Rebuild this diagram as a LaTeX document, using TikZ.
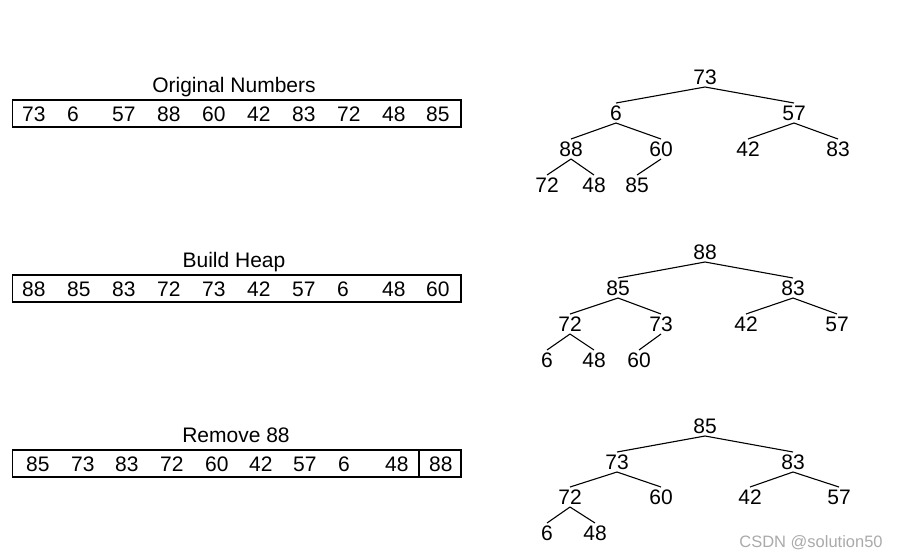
\documentclass[tikz,border=0pt]{standalone}
\usepackage{fontspec}
\setmainfont{Liberation Sans}
\usepackage{tikz}
\usetikzlibrary{positioning}
\definecolor{MarkGray}{RGB}{170, 170, 170}

\begin{document}
\begin{tikzpicture}[x=1pt,y=-1pt,
    every node/.style={font=\fontsize{21}{24}\selectfont,text height=15pt,text depth=0pt},
    cell/.style={anchor=west,inner sep=0pt},
    key/.style={inner sep=2.3pt},
    arr/.style={draw,line width=1.1pt,minimum width=448.5pt,minimum height=27pt,inner sep=0pt},
    link/.style={line width=1.1pt}]
        \useasboundingbox (0,0) rectangle (901,555);
        % original numbers
        \node at (234,85) (cap1) {Original Numbers};
        \node[arr] at (236.75,113.5) (box1) {};
        \node[cell] at (22,114) (a1) {73};
        \node[cell] at (67,114) (a2) {6};
        \node[cell] at (112,114) (a3) {57};
        \node[cell] at (157,114) (a4) {88};
        \node[cell] at (202,114) (a5) {60};
        \node[cell] at (247,114) (a6) {42};
        \node[cell] at (292,114) (a7) {83};
        \node[cell] at (337,114) (a8) {72};
        \node[cell] at (382,114) (a9) {48};
        \node[cell] at (426,114) (a10) {85};
        % build heap
        \node at (234,260) (cap2) {Build Heap};
        \node[arr] at (236.75,288.5) (box2) {};
        \node[cell] at (22,289) (b1) {88};
        \node[cell] at (67,289) (b2) {85};
        \node[cell] at (112,289) (b3) {83};
        \node[cell] at (157,289) (b4) {72};
        \node[cell] at (202,289) (b5) {73};
        \node[cell] at (247,289) (b6) {42};
        \node[cell] at (292,289) (b7) {57};
        \node[cell] at (337,289) (b8) {6};
        \node[cell] at (382,289) (b9) {48};
        \node[cell] at (426,289) (b10) {60};
        % remove 88
        \node at (236,435) (cap3) {Remove 88};
        \node[arr] at (236.75,463.5) (box3) {};
        \coordinate (div3) at (419,463.5);
        \draw[line width=1.1pt] (box3.north -| div3) -- (box3.south -| div3);
        \node[cell] at (26,464) (c1) {85};
        \node[cell] at (71,464) (c2) {73};
        \node[cell] at (115,464) (c3) {83};
        \node[cell] at (160,464) (c4) {72};
        \node[cell] at (205,464) (c5) {60};
        \node[cell] at (249,464) (c6) {42};
        \node[cell] at (293,464) (c7) {57};
        \node[cell] at (338,464) (c8) {6};
        \node[cell] at (385,464) (c9) {48};
        \node[cell] at (429,464) (c10) {88};
        % tree 1
        \node[key] at (705,77) (t1a) {73};
        \node[key] at (616,113) (t1b) {6};
        \node[key] at (794,113) (t1c) {57};
        \node[key] at (571,149) (t1d) {88};
        \node[key] at (661,149) (t1e) {60};
        \node[key] at (748,149) (t1f) {42};
        \node[key] at (838,149) (t1g) {83};
        \node[key] at (547,185) (t1h) {72};
        \node[key] at (594,185) (t1i) {48};
        \node[key] at (637,185) (t1j) {85};
        \draw[link] (t1a.south) -- (t1b.north);
        \draw[link] (t1a.south) -- (t1c.north);
        \draw[link] (t1b.south) -- (t1d.north);
        \draw[link] (t1b.south) -- (t1e.north);
        \draw[link] (t1c.south) -- (t1f.north);
        \draw[link] (t1c.south) -- (t1g.north);
        \draw[link] (t1d.south) -- (t1h.north);
        \draw[link] (t1d.south) -- (t1i.north);
        \draw[link] (t1e.south) -- (t1j.north);
        % tree 2
        \node[key] at (705,252) (t2a) {88};
        \node[key] at (618,288) (t2b) {85};
        \node[key] at (793,288) (t2c) {83};
        \node[key] at (570,324) (t2d) {72};
        \node[key] at (661,324) (t2e) {73};
        \node[key] at (746,324) (t2f) {42};
        \node[key] at (837,324) (t2g) {57};
        \node[key] at (547,360) (t2h) {6};
        \node[key] at (594,360) (t2i) {48};
        \node[key] at (639,360) (t2j) {60};
        \draw[link] (t2a.south) -- (t2b.north);
        \draw[link] (t2a.south) -- (t2c.north);
        \draw[link] (t2b.south) -- (t2d.north);
        \draw[link] (t2b.south) -- (t2e.north);
        \draw[link] (t2c.south) -- (t2f.north);
        \draw[link] (t2c.south) -- (t2g.north);
        \draw[link] (t2d.south) -- (t2h.north);
        \draw[link] (t2d.south) -- (t2i.north);
        \draw[link] (t2e.south) -- (t2j.north);
        % tree 3
        \node[key] at (705,426) (t3a) {85};
        \node[key] at (617,462) (t3b) {73};
        \node[key] at (793,462) (t3c) {83};
        \node[key] at (570,497) (t3d) {72};
        \node[key] at (661,497) (t3e) {60};
        \node[key] at (750,497) (t3f) {42};
        \node[key] at (839,497) (t3g) {57};
        \node[key] at (547,533) (t3h) {6};
        \node[key] at (595,533) (t3i) {48};
        \draw[link] (t3a.south) -- (t3b.north);
        \draw[link] (t3a.south) -- (t3c.north);
        \draw[link] (t3b.south) -- (t3d.north);
        \draw[link] (t3b.south) -- (t3e.north);
        \draw[link] (t3c.south) -- (t3f.north);
        \draw[link] (t3c.south) -- (t3g.north);
        \draw[link] (t3d.south) -- (t3h.north);
        \draw[link] (t3d.south) -- (t3i.north);
        \node[font=\fontsize{16.5}{20}\selectfont,text=MarkGray] at (811,540) (mark) {CSDN @solution50};
      \end{tikzpicture}
\end{document}
